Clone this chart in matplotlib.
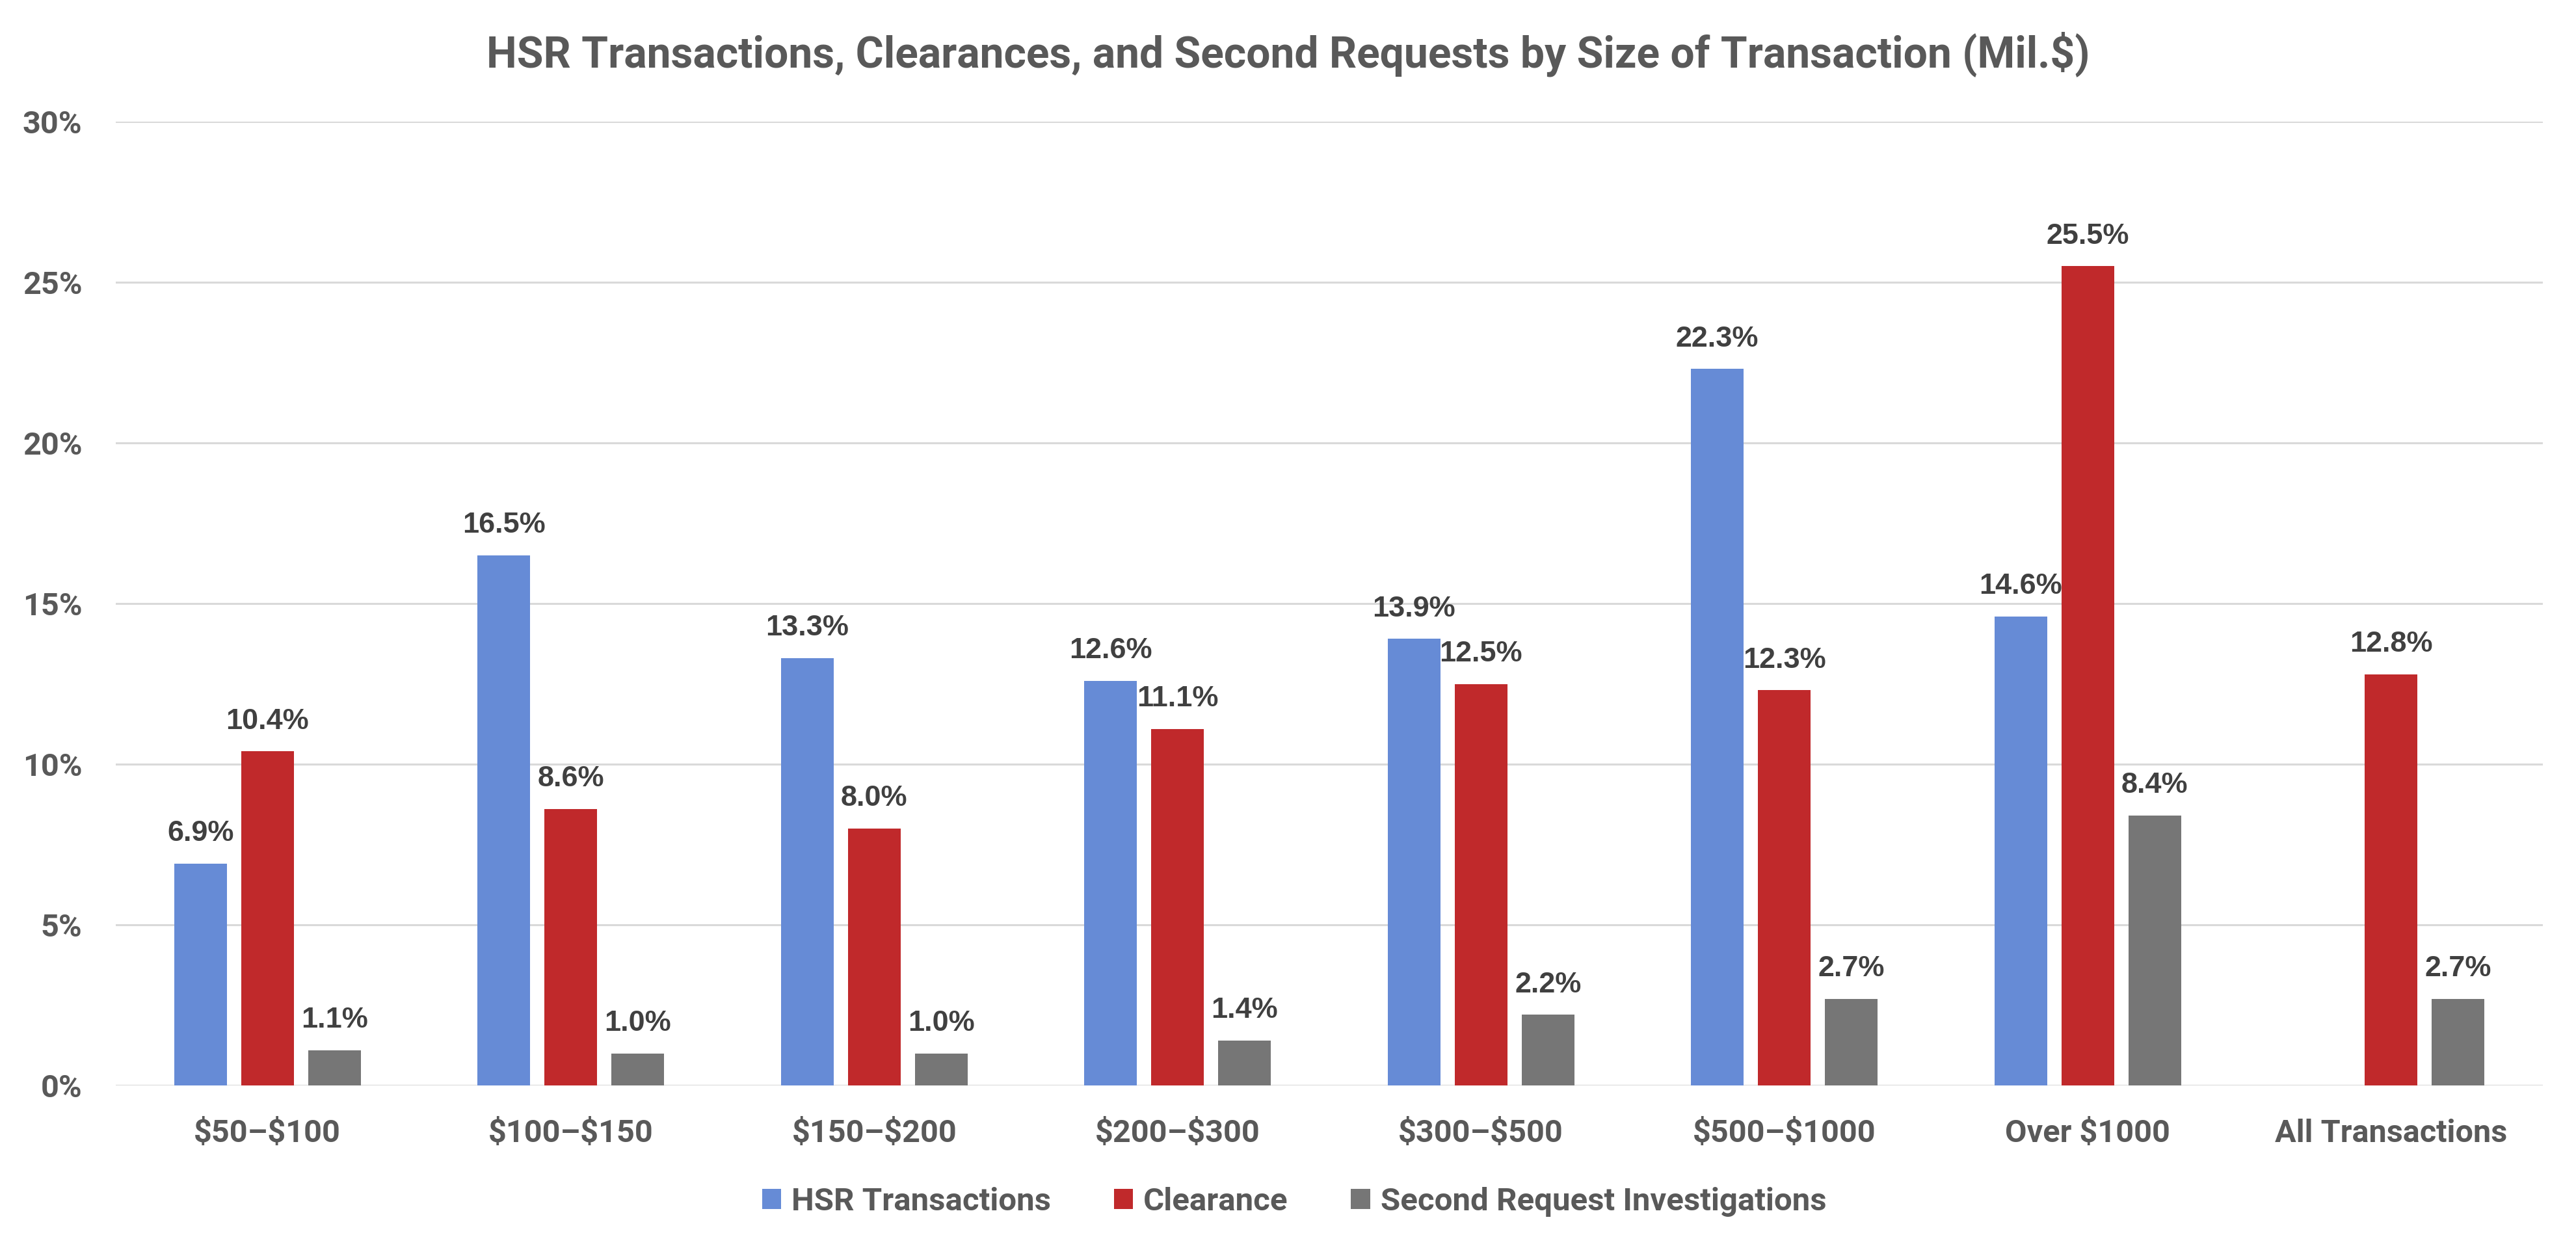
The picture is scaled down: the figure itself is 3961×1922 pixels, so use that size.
import numpy as np
import matplotlib
matplotlib.use('Agg')
import matplotlib.pyplot as plt
from matplotlib.patches import Patch

# data (percent)
categories = ['\\$50–\\$100', '\\$100–\\$150', '\\$150–\\$200', '\\$200–\\$300',
              '\\$300–\\$500', '\\$500–\\$1000', 'Over \\$1000', 'All Transactions']
hsr_transactions = [6.9, 16.5, 13.3, 12.6, 13.9, 22.3, 14.6, None]
clearance = [10.4, 8.6, 8.0, 11.1, 12.5, 12.3, 25.5, 12.8]
second_request = [1.1, 1.0, 1.0, 1.4, 2.2, 2.7, 8.4, 2.7]
series_names = ['HSR Transactions', 'Clearance', 'Second Request Investigations']
colors = ['#668bd6', '#c0292b', '#767676']

text_font = ['Roboto', 'DejaVu Sans']
label_font = ['Liberation Sans', 'DejaVu Sans']
text_color = '#595959'
label_color = '#404040'

W, H = 3961, 1922
fig = plt.figure(figsize=(W / 100, H / 100), dpi=100)
ax = fig.add_axes([178 / W, 1 - 1669 / H, (3910 - 178) / W, (1669 - 187) / H])

x = np.arange(len(categories))
width = 0.174
step = 0.221

for i, (vals, name, col) in enumerate(zip([hsr_transactions, clearance, second_request],
                                           series_names, colors)):
    xs = [xi + (i - 1) * step for xi, v in zip(x, vals) if v is not None]
    ys = [v for v in vals if v is not None]
    ax.bar(xs, ys, width=width, color=col, zorder=3)
    for xv, yv in zip(xs, ys):
        ax.annotate(f'{yv:.1f}%', (xv, yv), xytext=(0, 25), textcoords='offset points',
                    ha='center', va='baseline', fontsize=32.4, fontweight='bold',
                    family=label_font, color=label_color)

ax.set_xlim(-0.5, len(categories) - 0.5)
ax.set_ylim(0, 30)
ax.set_yticks([0, 5, 10, 15, 20, 25, 30])
ax.set_yticklabels([f'{t}%' for t in [0, 5, 10, 15, 20, 25, 30]])
ax.set_xticks(x)
ax.set_xticklabels(categories)
for lab in ax.get_xticklabels() + ax.get_yticklabels():
    lab.set_family(text_font)
    lab.set_fontweight('bold')
    lab.set_fontsize(35)
    lab.set_color(text_color)
ax.tick_params(axis='both', length=0)
ax.tick_params(axis='y', pad=37)
ax.tick_params(axis='x', pad=37)

ax.grid(axis='y', color='#d9d9d9', linewidth=2.2, zorder=0)
for s in ax.spines.values():
    s.set_visible(False)

fig.text(0.5, 1 - 103 / H,
         'HSR Transactions, Clearances, and Second Requests by Size of Transaction (Mil.\\$)',
         ha='center', va='baseline', fontsize=47.5, fontweight='bold',
         family=text_font, color=text_color)

handles = [Patch(facecolor=c, edgecolor='none') for c in colors]
fig.legend(handles, series_names, loc='center', bbox_to_anchor=(1990 / W, 1 - 1848 / H),
           ncol=3, frameon=False, handlelength=0.6, handleheight=0.6,
           handletextpad=0.33, columnspacing=1.95,
           prop={'family': text_font, 'weight': 'bold', 'size': 35.5},
           labelcolor=text_color)

fig.savefig('out.png', dpi=100, facecolor='white')
